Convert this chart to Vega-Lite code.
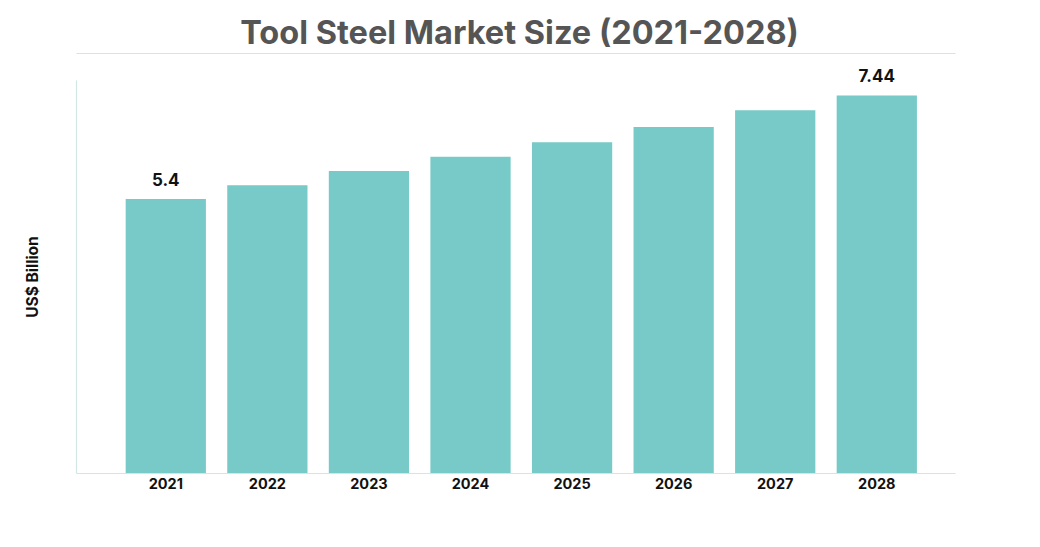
{
  "$schema": "https://vega.github.io/schema/vega-lite/v6.json",
  "width": 879,
  "height": 393,
  "autosize": {"type": "none"},
  "padding": {"left": 76, "top": 80, "right": 85, "bottom": 74},
  "background": "white",
  "config": {"view": {"stroke": null}, "font": "Inter"},
  "title": {
    "text": "Tool Steel Market Size (2021-2028)",
    "fontSize": 32.5,
    "font": "Inter",
    "fontWeight": "bold",
    "color": "#555555",
    "anchor": "middle",
    "dx": 4,
    "offset": 3
  },
  "data": {
    "values": [
      {"year": "2021", "value": 5.4, "label": "5.4"},
      {"year": "2022", "value": 5.67, "label": ""},
      {"year": "2023", "value": 5.95, "label": ""},
      {"year": "2024", "value": 6.23, "label": ""},
      {"year": "2025", "value": 6.52, "label": ""},
      {"year": "2026", "value": 6.82, "label": ""},
      {"year": "2027", "value": 7.15, "label": ""},
      {"year": "2028", "value": 7.44, "label": "7.44"}
    ]
  },
  "encoding": {
    "x": {
      "field": "year",
      "type": "nominal",
      "scale": {"paddingInner": 0.21, "paddingOuter": 0.432, "align": 0.566}
    },
    "y": {
      "field": "value",
      "type": "quantitative",
      "scale": {"domain": [0, 7.745], "nice": false, "zero": true}
    }
  },
  "layer": [
    {
      "mark": {"type": "bar", "color": "#77CAC7"},
      "encoding": {
        "x": {
          "field": "year",
          "type": "nominal",
          "axis": {
            "title": null,
            "labelAngle": 0,
            "ticks": false,
            "labelFontSize": 14.5,
            "labelFontWeight": "bold",
            "labelColor": "#111111",
            "labelPadding": 4,
            "domainColor": "#d3e6e6",
            "domainWidth": 1.2
          }
        },
        "y": {
          "field": "value",
          "type": "quantitative",
          "axis": {
            "title": "US$ Billion",
            "titleFontSize": 15.5,
            "titleFontWeight": "bold",
            "titleColor": "#111111",
            "titlePadding": 36,
            "labels": false,
            "ticks": false,
            "grid": false,
            "domainColor": "#d3e6e6",
            "domainWidth": 1.2
          }
        }
      }
    },
    {
      "mark": {
        "type": "text",
        "baseline": "alphabetic",
        "dy": -13,
        "fontSize": 17,
        "fontWeight": "bold",
        "color": "#111111"
      },
      "encoding": {
        "x": {
          "field": "year",
          "type": "nominal",
          "axis": {
            "orient": "top",
            "offset": 27,
            "title": null,
            "labels": false,
            "ticks": false,
            "domainColor": "#d3e6e6",
            "domainWidth": 1.2
          }
        },
        "text": {"field": "label"}
      }
    }
  ],
  "resolve": {"axis": {"x": "independent"}}
}
